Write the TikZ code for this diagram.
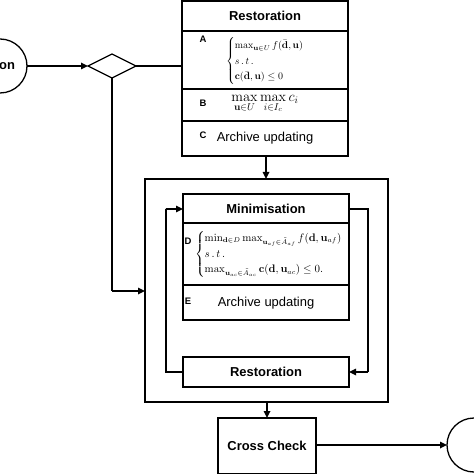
\documentclass[tikz,border=0pt]{standalone}
\usepackage{amsmath}
\usepackage[no-math]{fontspec}
\setmainfont{Liberation Sans}
\usetikzlibrary{arrows.meta,shapes.geometric}
\begin{document}
\begin{tikzpicture}[x=1bp,y=-1bp,
  every node/.style={inner sep=0pt,outer sep=0pt},
  cell/.style={draw,line width=1.3bp,anchor=north west},
  conn/.style={line width=1.6bp},
  arr/.style={conn,-{Triangle[length=7bp,width=6.5bp]}},
  hdr/.style={font=\fontsize{13}{15}\selectfont\bfseries},
  plain/.style={font=\fontsize{13}{15}\selectfont},
  lett/.style={font=\fontsize{9.5}{10}\selectfont\bfseries},
  mth/.style={anchor=west}]
\useasboundingbox (0,0) rectangle (474,474);
% left start circle
\node[draw,circle,line width=1.3bp,minimum size=54bp] (start) at (0,66) {};
\node[font=\fontsize{13}{15}\selectfont\bfseries] (starttxt) at (7,66) {on};
% diamond
\node[draw,diamond,line width=1.3bp,minimum width=48bp,minimum height=24bp,aspect=2] (dia) at (112,66) {};
% top Restoration box
\node[cell,minimum width=166bp,minimum height=30bp] (rh) at (182,1) {};
\node[cell,minimum width=166bp,minimum height=58bp] (ra) at (182,31) {};
\node[cell,minimum width=166bp,minimum height=32bp] (rb) at (182,89) {};
\node[cell,minimum width=166bp,minimum height=35bp] (rc) at (182,121) {};
\node[hdr] (rht) at (265,16) {Restoration};
\node[lett] (la) at (203,39) {A};
\node[mth,font=\fontsize{10}{13}\selectfont] (ma) at (226,61) {$\left\{\renewcommand{\arraystretch}{1.2}\begin{array}{@{}l@{}}
  \max_{\mathbf{u}\in U} f(\bar{\mathbf{d}},\mathbf{u})\\
  s\,.\,t\,.\\
  \mathbf{c}(\bar{\mathbf{d}},\mathbf{u})\le 0
  \end{array}\right.$};
\node[lett] (lb) at (203,103) {B};
\node[font=\fontsize{14}{16}\selectfont] (mb) at (265,104) {$\displaystyle\max_{\mathbf{u}\in U}\max_{i\in I_c} c_i$};
\node[lett] (lc) at (203,135) {C};
\node[plain] (rct) at (265,138) {Archive updating};
% outer box
\node[cell,minimum width=243bp,minimum height=223bp] (outer) at (145,179) {};
% Minimisation box
\node[cell,minimum width=166bp,minimum height=29bp] (mh) at (183,194) {};
\node[cell,minimum width=166bp,minimum height=62bp] (md) at (183,223) {};
\node[cell,minimum width=166bp,minimum height=35bp] (me) at (183,285) {};
\node[hdr] (mht) at (266,209) {Minimisation};
\node[lett] (ld) at (188,241) {D};
\node[mth,font=\fontsize{10.5}{13}\selectfont] (mdm) at (195,254) {$\left\{\renewcommand{\arraystretch}{1.22}\begin{array}{@{}l@{}}
  \min_{\mathbf{d}\in D}\max_{\mathbf{u}_{af}\in\tilde{A}_{af}} f(\mathbf{d},\mathbf{u}_{af})\\
  s\,.\,t\,.\\
  \max_{\mathbf{u}_{ac}\in\tilde{A}_{ac}}\mathbf{c}(\mathbf{d},\mathbf{u}_{ac})\le 0.
  \end{array}\right.$};
\node[lett] (le) at (188,301) {E};
\node[plain] (met) at (266,303) {Archive updating};
% lower Restoration
\node[cell,minimum width=166bp,minimum height=30bp] (lr) at (183,357) {};
\node[hdr] (lrt) at (266,372) {Restoration};
% Cross check
\node[cell,minimum width=98bp,minimum height=56bp] (cc) at (218,418) {};
\node[hdr] (cct) at (267,446) {Cross Check};
% end circle
\node[draw,circle,line width=1.3bp,minimum size=54bp] (stop) at (474,445) {};
% coordinates
\coordinate (c1) at (112,291);
\coordinate (lp1) at (166,372);
\coordinate (lp2) at (166,209);
\coordinate (rp1) at (368,209);
\coordinate (rp2) at (368,372);
% connectors
\draw[arr] (start.east) -- (dia.west);
\draw[conn] (dia.east) -- (dia.east -| rh.west);
\draw[conn] (dia.south) -- (c1);
\draw[arr] (c1) -- (c1 -| outer.west);
\draw[arr] (rc.south -| 266,0) -- (266,179);
\draw[conn] (lr.west) -- (lp1) -- (lp2);
\draw[arr] (lp2) -- (lp2 -| mh.west);
\draw[conn] (mh.east |- rp1) -- (rp1) -- (rp2);
\draw[arr] (rp2) -- (rp2 -| lr.east);
\draw[arr] (267,402) -- (cc.north -| 267,0);
\draw[arr] (cc.east |- 0,445) -- (stop.west);
\end{tikzpicture}
\end{document}
